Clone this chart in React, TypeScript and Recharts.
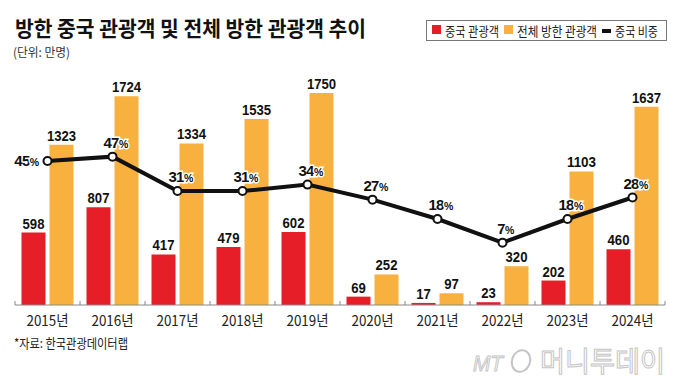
import { Bar, ComposedChart, LabelList, Line, XAxis, YAxis } from "recharts";

const years = ["2015년", "2016년", "2017년", "2018년", "2019년", "2020년", "2021년", "2022년", "2023년", "2024년"];
const chinaVisitors = [598, 807, 417, 479, 602, 69, 17, 23, 202, 460];
const totalVisitors = [1323, 1724, 1334, 1535, 1750, 252, 97, 320, 1103, 1637];
const chinaShare = [45, 47, 31, 31, 34, 27, 18, 7, 18, 28];

const data = years.map((year, i) => ({
  year,
  china: chinaVisitors[i],
  total: totalVisitors[i],
  share: chinaShare[i],
}));

const RED = "#e61e28";
const ORANGE = "#f8b13e";
const KR = "'Noto Sans CJK KR', 'Noto Sans', sans-serif";
const NUM = "'Liberation Sans', Arial, sans-serif";

const BarValue = (props: any) => {
  const { x, y, width, value } = props;
  const s = String(value);
  return (
    <text
      x={Number(x) + Number(width) / 2}
      y={Number(y) - 4}
      textAnchor="middle"
      fontFamily={NUM}
      fontWeight="bold"
      fontSize={15}
      fill="#111"
      textLength={s.length * 7.3}
      lengthAdjust="spacingAndGlyphs"
    >
      {s}
    </text>
  );
};

const ShareValue = (props: any) => {
  const { x, y, value, index } = props;
  const first = index === 0;
  return (
    <text
      x={first ? x - 9 : x + 3}
      y={first ? y + 5 : y - 9}
      textAnchor={first ? "end" : "middle"}
      fontFamily={NUM}
      fontWeight="bold"
      fill="#111"
      stroke="#fff"
      strokeWidth={3}
      paintOrder="stroke"
      letterSpacing={-0.6}
    >
      <tspan fontSize={15}>{value}</tspan>
      <tspan fontSize={10.5}>%</tspan>
    </text>
  );
};

const YearTick = (props: any) => {
  const { x, y, payload, index } = props;
  const half = 32.5;
  return (
    <g>
      <line x1={x - half} x2={x - half} y1={y - 4} y2={y} stroke="#888" />
      {index === years.length - 1 && <line x1={x + half} x2={x + half} y1={y - 4} y2={y} stroke="#888" />}
      <text
        x={x}
        y={y + 21}
        textAnchor="middle"
        fontFamily={KR}
        fontSize={15}
        fill="#222"
        textLength={42}
        lengthAdjust="spacingAndGlyphs"
      >
        {payload.value}
      </text>
    </g>
  );
};

export default function App() {
  return (
    <div style={{ position: "absolute", left: 0, top: 0, width: 680, height: 386, background: "#fff" }}>
      <ComposedChart
        width={680}
        height={386}
        data={data}
        margin={{ top: 87, right: 15, bottom: 51, left: 15 }}
        barCategoryGap="10%"
        barGap={4}
      >
        <XAxis
          dataKey="year"
          height={30}
          axisLine={{ stroke: "#888" }}
          tickLine={false}
          tickSize={0}
          tickMargin={0}
          tick={<YearTick />}
          interval={0}
        />
        <YAxis yAxisId="left" hide domain={[0, 1800]} />
        <YAxis yAxisId="right" hide orientation="right" domain={[-22, 79.4]} />
        <Bar yAxisId="left" dataKey="china" fill={RED} isAnimationActive={false}>
          <LabelList dataKey="china" content={<BarValue />} />
        </Bar>
        <Bar yAxisId="left" dataKey="total" fill={ORANGE} isAnimationActive={false}>
          <LabelList dataKey="total" content={<BarValue />} />
        </Bar>
        <Line
          yAxisId="right"
          dataKey="share"
          stroke="#111"
          strokeWidth={4}
          dot={{ r: 4, fill: "#fff", stroke: "#111", strokeWidth: 2 }}
          isAnimationActive={false}
        >
          <LabelList dataKey="share" content={<ShareValue />} />
        </Line>
      </ComposedChart>

      <svg width={680} height={386} style={{ position: "absolute", left: 0, top: 0, pointerEvents: "none" }}>
        <text x={15} y={36} fontFamily={KR} fontWeight="bold" fontSize={21} fill="#111" textLength={351} lengthAdjust="spacingAndGlyphs">
          방한 중국 관광객 및 전체 방한 관광객 추이
        </text>
        <text x={13} y={57} fontFamily={KR} fontSize={12.5} fill="#333" textLength={57} lengthAdjust="spacingAndGlyphs">
          (단위: 만명)
        </text>

        <rect x={426.5} y={20.5} width={240} height={20} fill="#fff" stroke="#777" />
        <rect x={432} y={25} width={9} height={9} fill={RED} />
        <text x={445} y={35.5} fontFamily={KR} fontSize={13} fill="#222" textLength={54} lengthAdjust="spacingAndGlyphs">
          중국 관광객
        </text>
        <rect x={504} y={25} width={9} height={9} fill={ORANGE} />
        <text x={517} y={35.5} fontFamily={KR} fontSize={13} fill="#222" textLength={80} lengthAdjust="spacingAndGlyphs">
          전체 방한 관광객
        </text>
        <rect x={602} y={29} width={9} height={4} fill="#111" />
        <text x={615} y={35.5} fontFamily={KR} fontSize={13} fill="#222" textLength={43} lengthAdjust="spacingAndGlyphs">
          중국 비중
        </text>

        <text x={14} y={348} fontFamily={KR} fontSize={13} fill="#222" textLength={114} lengthAdjust="spacingAndGlyphs">
          *자료: 한국관광데이터랩
        </text>

        <text x={473} y={371} fontFamily={NUM} fontStyle="italic" fontSize={22} fill="#fff" stroke="#c4c4c4" strokeWidth={1} textLength={30} lengthAdjust="spacingAndGlyphs">
          MT
        </text>
        <ellipse cx={521} cy={361} rx={9} ry={11} fill="none" stroke="#c4c4c4" strokeWidth={2} transform="rotate(20 521 361)" />
        <text x={540} y={372} fontFamily={KR} fontSize={28} fill="#fff" stroke="#c4c4c4" strokeWidth={1} textLength={125} lengthAdjust="spacingAndGlyphs">
          머니투데이
        </text>
      </svg>
    </div>
  );
}
